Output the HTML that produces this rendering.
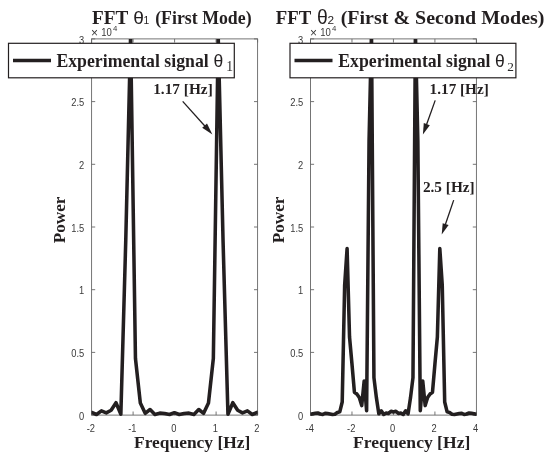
<!DOCTYPE html>
<html><head><meta charset="utf-8"><title>FFT</title>
<style>
html,body{margin:0;padding:0;background:#fff;}
svg{display:block;}
text{font-family:"Liberation Serif",serif;fill:#231f20;}
.b{font-weight:bold;}
.tk{font-family:"Liberation Sans",sans-serif;font-size:10.6px;fill:#3a3a3a;}
.sans{font-family:"Liberation Sans",sans-serif;font-weight:normal;}
</style></head><body>
<svg width="550" height="455" viewBox="0 0 550 455">
<rect width="550" height="455" fill="#fff"/>
<defs>
<clipPath id="c1"><rect x="91.6" y="38.9" width="166.00" height="379.20"/></clipPath>
<clipPath id="c2"><rect x="310.5" y="38.9" width="165.90" height="379.20"/></clipPath>
</defs>

<!-- left axes -->
<rect x="91.6" y="38.9" width="166.00" height="376.20" fill="#fff" stroke="#666" stroke-width="0.9"/>
<text class="tk" transform="translate(90.80,431.6) scale(0.88,1)" text-anchor="middle">-2</text>
<text class="tk" transform="translate(132.30,431.6) scale(0.88,1)" text-anchor="middle">-1</text>
<text class="tk" transform="translate(173.80,431.6) scale(0.88,1)" text-anchor="middle">0</text>
<text class="tk" transform="translate(215.30,431.6) scale(0.88,1)" text-anchor="middle">1</text>
<text class="tk" transform="translate(256.80,431.6) scale(0.88,1)" text-anchor="middle">2</text>
<text class="tk" transform="translate(84.30,419.70) scale(0.88,1)" text-anchor="end">0</text>
<text class="tk" transform="translate(84.30,357.00) scale(0.88,1)" text-anchor="end">0.5</text>
<text class="tk" transform="translate(84.30,294.30) scale(0.88,1)" text-anchor="end">1</text>
<text class="tk" transform="translate(84.30,231.60) scale(0.88,1)" text-anchor="end">1.5</text>
<text class="tk" transform="translate(84.30,168.90) scale(0.88,1)" text-anchor="end">2</text>
<text class="tk" transform="translate(84.30,106.20) scale(0.88,1)" text-anchor="end">2.5</text>
<text class="tk" transform="translate(84.30,43.50) scale(0.88,1)" text-anchor="end">3</text>
<path d="M91.60,415.1 v-3.6 M91.60,38.9 v3.6 M133.10,415.1 v-3.6 M133.10,38.9 v3.6 M174.60,415.1 v-3.6 M174.60,38.9 v3.6 M216.10,415.1 v-3.6 M216.10,38.9 v3.6 M257.60,415.1 v-3.6 M257.60,38.9 v3.6 M91.6,415.10 h3.6 M257.6,415.10 h-3.6 M91.6,352.40 h3.6 M257.6,352.40 h-3.6 M91.6,289.70 h3.6 M257.6,289.70 h-3.6 M91.6,227.00 h3.6 M257.6,227.00 h-3.6 M91.6,164.30 h3.6 M257.6,164.30 h-3.6 M91.6,101.60 h3.6 M257.6,101.60 h-3.6 M91.6,38.90 h3.6 M257.6,38.90 h-3.6" stroke="#666" stroke-width="0.9" fill="none"/>
<path d="M86.79,413.50 L91.66,412.40 L96.53,414.50 L101.40,410.90 L106.26,412.90 L111.13,410.30 L116.00,402.70 L120.86,414.20 L125.73,241.50 L130.60,36.00 L135.46,358.50 L140.33,403.00 L145.20,413.30 L150.06,409.50 L154.93,414.50 L159.80,413.10 L164.67,413.60 L169.53,414.50 L174.40,412.70 L179.27,414.50 L184.13,413.60 L189.00,413.10 L193.87,414.50 L198.74,409.50 L203.60,413.30 L208.47,403.00 L213.34,358.50 L218.20,36.00 L223.07,241.50 L227.94,414.20 L232.80,402.70 L237.67,410.30 L242.54,412.90 L247.41,410.90 L252.27,414.50 L257.14,412.40 L262.01,413.50" clip-path="url(#c1)" fill="none" stroke="#231f20" stroke-width="3.55" stroke-linejoin="round" stroke-linecap="butt"/>
<!-- right axes -->
<rect x="310.5" y="38.9" width="165.90" height="376.20" fill="#fff" stroke="#666" stroke-width="0.9"/>
<text class="tk" transform="translate(309.70,431.6) scale(0.88,1)" text-anchor="middle">-4</text>
<text class="tk" transform="translate(351.18,431.6) scale(0.88,1)" text-anchor="middle">-2</text>
<text class="tk" transform="translate(392.65,431.6) scale(0.88,1)" text-anchor="middle">0</text>
<text class="tk" transform="translate(434.12,431.6) scale(0.88,1)" text-anchor="middle">2</text>
<text class="tk" transform="translate(475.60,431.6) scale(0.88,1)" text-anchor="middle">4</text>
<text class="tk" transform="translate(303.20,419.70) scale(0.88,1)" text-anchor="end">0</text>
<text class="tk" transform="translate(303.20,357.00) scale(0.88,1)" text-anchor="end">0.5</text>
<text class="tk" transform="translate(303.20,294.30) scale(0.88,1)" text-anchor="end">1</text>
<text class="tk" transform="translate(303.20,231.60) scale(0.88,1)" text-anchor="end">1.5</text>
<text class="tk" transform="translate(303.20,168.90) scale(0.88,1)" text-anchor="end">2</text>
<text class="tk" transform="translate(303.20,106.20) scale(0.88,1)" text-anchor="end">2.5</text>
<text class="tk" transform="translate(303.20,43.50) scale(0.88,1)" text-anchor="end">3</text>
<path d="M310.50,415.1 v-3.6 M310.50,38.9 v3.6 M351.98,415.1 v-3.6 M351.98,38.9 v3.6 M393.45,415.1 v-3.6 M393.45,38.9 v3.6 M434.92,415.1 v-3.6 M434.92,38.9 v3.6 M476.40,415.1 v-3.6 M476.40,38.9 v3.6 M310.5,415.10 h3.6 M476.4,415.10 h-3.6 M310.5,352.40 h3.6 M476.4,352.40 h-3.6 M310.5,289.70 h3.6 M476.4,289.70 h-3.6 M310.5,227.00 h3.6 M476.4,227.00 h-3.6 M310.5,164.30 h3.6 M476.4,164.30 h-3.6 M310.5,101.60 h3.6 M476.4,101.60 h-3.6 M310.5,38.90 h3.6 M476.4,38.90 h-3.6" stroke="#666" stroke-width="0.9" fill="none"/>
<path d="M308.05,414.00 L310.49,414.30 L312.93,413.70 L315.37,413.30 L317.81,413.00 L320.25,414.00 L322.69,414.50 L325.13,413.20 L327.57,413.50 L330.01,414.00 L332.45,414.50 L334.89,414.20 L337.33,412.50 L339.77,411.90 L342.21,402.00 L344.65,285.00 L347.09,248.50 L349.53,337.00 L351.97,364.00 L354.41,392.20 L356.85,394.00 L359.29,397.50 L361.73,405.60 L364.17,381.00 L366.61,410.70 L369.05,141.00 L371.49,33.00 L373.93,377.60 L376.37,397.60 L378.81,413.80 L381.25,410.80 L383.69,414.50 L386.13,413.00 L388.57,413.40 L391.01,411.20 L393.45,412.00 L395.89,411.20 L398.33,413.40 L400.77,413.00 L403.21,414.50 L405.65,410.80 L408.09,413.80 L410.53,397.60 L412.97,377.60 L415.41,33.00 L417.85,141.00 L420.29,410.70 L422.73,381.00 L425.17,405.60 L427.61,397.50 L430.05,394.00 L432.49,392.20 L434.93,364.00 L437.37,337.00 L439.81,248.50 L442.25,285.00 L444.69,402.00 L447.13,411.90 L449.57,412.50 L452.01,414.20 L454.45,414.50 L456.89,414.00 L459.33,413.50 L461.77,413.20 L464.21,414.50 L466.65,414.00 L469.09,413.00 L471.53,413.30 L473.97,413.70 L476.41,414.30 L478.85,414.00" clip-path="url(#c2)" fill="none" stroke="#231f20" stroke-width="3.55" stroke-linejoin="round" stroke-linecap="butt"/>

<!-- exponent labels -->
<text class="tk" x="91" y="36.6" style="font-size:12px">×</text><text class="tk" transform="translate(101.2,35.8) scale(0.9,1)">10</text><text class="tk" x="113" y="30.5" style="font-size:7.8px">4</text>
<text class="tk" x="310" y="36.6" style="font-size:12px">×</text><text class="tk" transform="translate(320.2,35.8) scale(0.9,1)">10</text><text class="tk" x="332" y="30.5" style="font-size:7.8px">4</text>

<!-- titles -->
<text class="b" x="92" y="23.7" style="font-size:19px" textLength="36.2" lengthAdjust="spacingAndGlyphs">FFT</text>
<text class="sans" x="133.2" y="23.8" style="font-size:19.2px">θ</text>
<text class="sans" x="143.6" y="23.7" style="font-size:10.3px">1</text>
<text class="b" x="155.2" y="23.9" style="font-size:17.8px" textLength="96.4" lengthAdjust="spacingAndGlyphs">(First Mode)</text>

<text class="b" x="275.8" y="23.7" style="font-size:19px" textLength="35.4" lengthAdjust="spacingAndGlyphs">FFT</text>
<text class="sans" x="317" y="23.8" style="font-size:19.4px">θ</text>
<text class="sans" x="327.4" y="24.3" style="font-size:11.8px">2</text>
<text class="b" x="340.7" y="23.9" style="font-size:19.6px" textLength="203.8" lengthAdjust="spacingAndGlyphs">(First &amp; Second Modes)</text>

<!-- legends -->
<rect x="8.5" y="43.3" width="225.8" height="34.5" fill="#fff" stroke="#231f20" stroke-width="1.2"/>
<path d="M13,60.5 H51" stroke="#231f20" stroke-width="3.5"/>
<text class="b" x="56.4" y="66.7" style="font-size:17.8px" textLength="152.3" lengthAdjust="spacingAndGlyphs">Experimental signal</text>
<text class="sans" x="213.4" y="66.6" style="font-size:17.5px">θ</text>
<text x="226.3" y="70.9" style="font-size:13.6px;fill:#2a2a2a">1</text>

<rect x="290" y="43.3" width="225.9" height="34.5" fill="#fff" stroke="#231f20" stroke-width="1.2"/>
<path d="M294.5,60.5 H332.5" stroke="#231f20" stroke-width="3.5"/>
<text class="b" x="338.2" y="66.7" style="font-size:17.8px" textLength="152.3" lengthAdjust="spacingAndGlyphs">Experimental signal</text>
<text class="sans" x="494.9" y="66.6" style="font-size:17.5px">θ</text>
<text x="507.2" y="71" style="font-size:13.3px;fill:#2a2a2a">2</text>

<!-- annotations -->
<text class="b" x="153.2" y="93.8" style="font-size:15.4px" textLength="59.6" lengthAdjust="spacingAndGlyphs">1.17 [Hz]</text>
<path d="M182.7,101.4 L205.5,126.7" stroke="#231f20" stroke-width="1.3" fill="none"/>
<path d="M212.4,134.4 L202.2,127.7 L207,123.5 Z" fill="#231f20"/>

<text class="b" x="429.6" y="93.8" style="font-size:15.4px" textLength="59.2" lengthAdjust="spacingAndGlyphs">1.17 [Hz]</text>
<path d="M435.2,100.4 L426.4,125" stroke="#231f20" stroke-width="1.3" fill="none"/>
<path d="M422.9,134.4 L423.8,122.9 L429.8,125.2 Z" fill="#231f20"/>

<text class="b" x="422.9" y="191.5" style="font-size:15.4px" textLength="51.8" lengthAdjust="spacingAndGlyphs">2.5 [Hz]</text>
<path d="M453.7,200.1 L445.2,225" stroke="#231f20" stroke-width="1.3" fill="none"/>
<path d="M441.7,234.6 L442.7,223.2 L448.6,225 Z" fill="#231f20"/>

<!-- axis labels -->
<text class="b" x="134" y="447.6" style="font-size:17.4px" textLength="116.3" lengthAdjust="spacingAndGlyphs">Frequency [Hz]</text>
<text class="b" x="353" y="447.6" style="font-size:17.4px" textLength="117.3" lengthAdjust="spacingAndGlyphs">Frequency [Hz]</text>
<text class="b" transform="translate(64.6,243.3) rotate(-90)" style="font-size:17.2px">Power</text>
<text class="b" transform="translate(284.3,243.3) rotate(-90)" style="font-size:17.2px">Power</text>
</svg>
</body></html>
